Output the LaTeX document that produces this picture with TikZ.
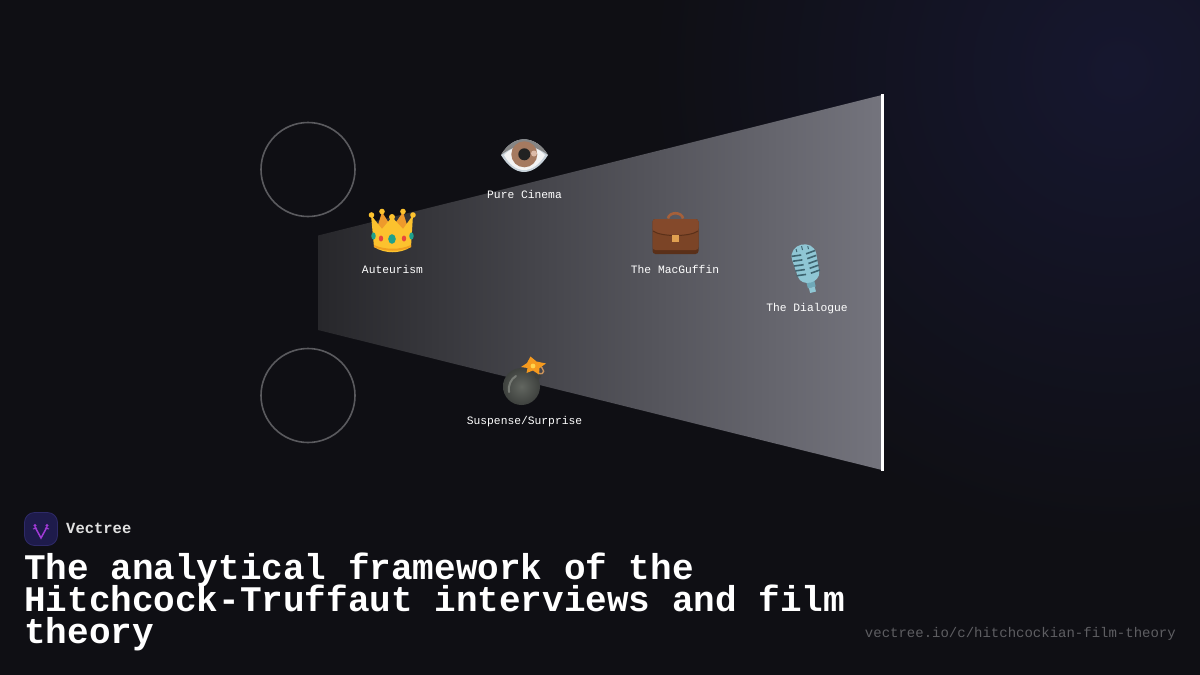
\documentclass[tikz,border=0pt]{standalone}
\usepackage{fontspec}
\setmainfont{Liberation Mono}
\newcommand{\tightlines}{\lineskiplimit=-100pt\relax}
\definecolor{bgc}{HTML}{0F0F14}
\definecolor{glowc}{HTML}{16172F}
\definecolor{beamL}{HTML}{27272B}
\definecolor{beamR}{HTML}{74747D}
\definecolor{ringc}{HTML}{5A5A5E}
\definecolor{urlc}{HTML}{5E5E62}
\definecolor{logoF}{HTML}{1E1B4B}
\definecolor{logoB}{HTML}{2E2A68}
\definecolor{logoV}{HTML}{A03AD6}
\definecolor{crownY}{HTML}{FCC22E}
\definecolor{crownO}{HTML}{EE9A2C}
\definecolor{crownD}{HTML}{F0A020}
\definecolor{gemT}{HTML}{1FA08C}
\definecolor{gemR}{HTML}{E8483A}
\definecolor{caseF}{HTML}{7B4426}
\definecolor{caseD}{HTML}{5A3019}
\definecolor{caseL}{HTML}{84492B}
\definecolor{caseH}{HTML}{A5603A}
\definecolor{clasp}{HTML}{E0A050}
\definecolor{micL}{HTML}{8FC6D4}
\definecolor{micD}{HTML}{3E6470}
\definecolor{micS}{HTML}{6FA8B8}
\definecolor{eyeLid}{HTML}{858585}
\definecolor{eyeRim}{HTML}{C8D2DA}
\definecolor{eyeW}{HTML}{F4F4F4}
\definecolor{iris}{HTML}{A57A60}
\definecolor{pupil}{HTML}{222222}
\definecolor{glint}{HTML}{DDBBA8}
\definecolor{bombL}{HTML}{626660}
\definecolor{bombD}{HTML}{3E413E}
\definecolor{bombH}{HTML}{777B75}
\definecolor{fuse}{HTML}{C9925A}
\definecolor{starO}{HTML}{F59A1E}
\definecolor{starY}{HTML}{FFD34D}
\tikzset{
  x=1pt,y=-1pt,
  ring/.style={draw=ringc,line width=1.6pt,circle,minimum size=94pt,inner sep=0pt},
  lab/.style={text=white,font=\fontsize{11.3}{13}\selectfont,inner sep=0pt,anchor=base},
}
\begin{document}
\begin{tikzpicture}
\useasboundingbox (0,0) rectangle (1200,675);
\fill[bgc] (0,0) rectangle (1200,675);
\begin{scope}
\clip (0,0) rectangle (1200,675);
\shade[inner color=glowc,outer color=bgc] (1120,70) circle (470);
\end{scope}
% beam and screen
\shade[left color=beamL,right color=beamR] (318,235.5) -- (882,95) -- (882,470) -- (318,330) -- cycle;
\fill[white] (881,94) rectangle (884,471);
% reels
\node[ring] (reelA) at (308,169.5) {};
\node[ring] (reelB) at (308,395.5) {};
% eye
\fill[eyeRim] (501,155) .. controls (507,145) and (515,139.3) .. (524,139.3) .. controls (533,139.3) and (542,145) .. (548,155) .. controls (542,165) and (533,172) .. (524,172) .. controls (515,172) and (507,165) .. (501,155) -- cycle;
\fill[eyeLid] (501,155) .. controls (507,145) and (515,139.3) .. (524,139.3) .. controls (533,139.3) and (542,145) .. (548,155) .. controls (540,149) and (532,146) .. (524,146) .. controls (516,146) and (509,149) .. (501,155) -- cycle;
\fill[eyeW] (504,155) .. controls (510,149) and (517,146) .. (524,146) .. controls (532,146) and (539,149) .. (545,155) .. controls (540,164) and (532,170) .. (524,170) .. controls (516,170) and (509,164) .. (504,155) -- cycle;
\fill[iris] (524.3,154.3) circle (13);
\fill[pupil] (524.3,154.3) circle (6);
\fill[glint] (534,153.5) circle (3);
% crown
\fill[crownO] (377,228) -- (382,212) -- (392,228) -- (403,212) -- (408,228) -- (405,240) -- (380,240) -- cycle;
\fill[crownY] (371,215) -- (382,229) -- (392,217) -- (403,229) -- (413,215) -- (411,247) .. controls (400,254) and (385,254) .. (374,247) -- cycle;
\fill[crownD] (374,245) .. controls (385,250) and (400,250) .. (411,245) -- (411,247) .. controls (400,252) and (385,252) .. (374,247) -- cycle;
\fill[crownY] (371.5,215) circle (2.8) (382,211.5) circle (2.8) (392,217) circle (3) (403,211.5) circle (2.8) (413,215) circle (2.8);
\fill[gemT] (392,239) ellipse (3.8 and 4.8) (373.5,236) ellipse (2.2 and 3.6) (411.5,236) ellipse (2.2 and 3.6);
\fill[gemR] (381,238.5) ellipse (2.2 and 3) (404,238.5) ellipse (2.2 and 3);
% briefcase
\draw[caseH,line width=2.6pt] (668,218.5) .. controls (669,211.5) and (682,211.5) .. (683,218.5);
\fill[caseD,rounded corners=3pt] (652.5,219) rectangle (698.5,254);
\fill[caseF,rounded corners=3pt] (652.5,219) rectangle (698.5,250);
\fill[caseL,rounded corners=3pt] (652.5,219) -- (698.5,219) -- (698.5,231) .. controls (690,236) and (661,236) .. (652.5,231) -- cycle;
\draw[caseD,line width=1pt] (653,231) .. controls (661,237) and (690,237) .. (698,231);
\fill[clasp] (672,235) rectangle (678.5,242);
% microphone
\begin{scope}[shift={(807,268)},rotate=14]
\fill[micS] (-4,14) rectangle (4,20);
\fill[micL] (-3,20) rectangle (3,25);
\fill[micL] (-12.5,-12) .. controls (-12.5,-28) and (12.5,-28) .. (12.5,-12) -- (11,6) .. controls (10,18) and (-10,18) .. (-11,6) -- cycle;
\foreach \yy in {-15,-10,-5,0,5}{
  \draw[micD,line width=1.6pt] (-12,\yy) -- (-2.5,\yy+1);
  \draw[micD,line width=1.6pt] (2.5,\yy+1) -- (12,\yy);
}
\draw[micD,line width=1pt] (-6,-21) -- (-6,-18) (0,-22.5) -- (0,-18.5) (6,-21) -- (6,-18);
\end{scope}
% bomb
\shade[inner color=bombL,outer color=bombD] (521.5,386.5) circle (18.5);
\fill[bombD] (538,375.5) circle (3.5);
\draw[bombH,line width=2pt,line cap=round] (509,392) .. controls (508,385) and (511,379) .. (516,376);
\draw[fuse,line width=1.4pt] (538,373) .. controls (546,376) and (545,368) .. (538,365);
\fill[starO] (530.5,356.5) -- (536.5,361.5) -- (546,363.5) -- (539.5,368) -- (539,374.5) -- (533,370.5) -- (526.5,373) -- (527.5,368) -- (521,367) -- (527,363) -- cycle;
\fill[starY] (533,366) circle (2.4);
% labels
\node[lab] (lblEye) at (524.5,198.2) {Pure Cinema};
\node[lab] (lblCrown) at (392.5,273.2) {Auteurism};
\node[lab] (lblCase) at (675,273.2) {The MacGuffin};
\node[lab] (lblMic) at (807,311.2) {The Dialogue};
\node[lab] (lblBomb) at (524.5,424.2) {Suspense/Surprise};
% logo
\node[draw=logoB,fill=logoF,line width=0.8pt,rounded corners=10pt,minimum size=33pt,inner sep=0pt] (logo) at (41,529) {};
\draw[logoV,line width=1.5pt] (35,527) -- (41,538) -- (47,527);
\draw[logoV,line width=1pt] (33,529) -- (37,528) (45,528) -- (49,529);
\fill[logoV] (35,525.5) circle (1.7) (47,525.5) circle (1.7);
\node[text=white!88!black,font=\fontsize{15.5}{18}\selectfont\bfseries,inner sep=0pt,anchor=base west] (brand) at (66,533.5) {Vectree};
% title
\node[text=white,font=\fontsize{36}{32.4}\selectfont\bfseries,inner sep=0pt,anchor=north west,align=left] (title) at (24,552.5) {\tightlines The analytical framework of the\\[-2.5pt]Hitchcock-Truffaut interviews and film\\[-0.5pt]theory};
% url
\node[text=urlc,font=\fontsize{14}{16}\selectfont,inner sep=0pt,anchor=base east] (url) at (1176,637) {vectree.io/c/hitchcockian-film-theory};
\end{tikzpicture}
\end{document}
